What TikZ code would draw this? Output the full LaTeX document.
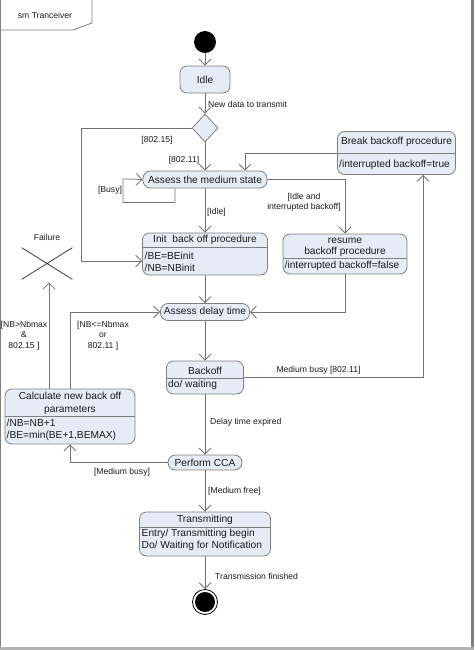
\documentclass[tikz,border=0pt]{standalone}
\usepackage{fontspec}
\setmainfont{Liberation Sans}
\usetikzlibrary{arrows.meta,shapes.geometric,shapes.misc}
\definecolor{boxfill}{HTML}{E6ECF6}
\definecolor{boxline}{HTML}{7F7F7F}
\definecolor{wire}{HTML}{737373}
\definecolor{txt}{HTML}{1A1A1A}
\begin{document}
\begin{tikzpicture}[x=1pt,y=-1pt,
 stbox/.style={draw=boxline, fill=boxfill, line width=0.8pt, rounded corners=7pt, inner sep=0pt},
 pill/.style={stbox, rounded corners=7.5pt},
 tr/.style={draw=wire, line width=0.8pt, -{Straight Barb[length=6pt,width=12pt,line width=0.8pt]}},
 divl/.style={draw=boxline, line width=0.8pt},
 ttl/.style={font=\fontsize{10.2}{12.5}\selectfont, text=txt, inner sep=0pt, align=center},
 cmp/.style={font=\fontsize{10.2}{12.2}\selectfont, text=txt, inner sep=0pt, align=left, anchor=west},
 lbl/.style={font=\fontsize{8.6}{10.3}\selectfont, text=txt, inner sep=0pt, align=center},
]
\useasboundingbox (0,0) rectangle (474,650);
% frame
\draw[draw=boxline, line width=0.8pt] (0.5,0) -- (0.5,648);
\draw[draw=gray, line width=2.5pt] (472.5,0) -- (472.5,649);
\draw[draw=black!30, line width=2.5pt] (0,648.7) -- (474,648.7);
\draw[draw=boxline, line width=0.8pt] (0,30) -- (73,30) -- (92,23) -- (92,0);
\node[lbl] (frm) at (45,15) {sm Tranceiver};

% states
\node[circle, fill=black, minimum size=22pt, inner sep=0pt] (ini) at (205,42) {};
\node[stbox, ttl, minimum width=50pt, minimum height=27pt] (idle) at (205,79.5) {Idle};
\node[diamond, draw=boxline, fill=boxfill, line width=0.8pt, minimum width=26pt, minimum height=28pt, inner sep=0pt] (dia) at (205,128) {};
\node[pill, ttl, minimum width=124pt, minimum height=17pt] (ams) at (205,179.5) {Assess the medium state};

\node[stbox, minimum width=118pt, minimum height=43pt] (brk) at (396.5,153) {};
\draw[divl] (337.5,153) -- (455.5,153);
\node[ttl] (brkt) at (396.5,142) {Break backoff procedure};
\node[cmp] (brkc) at (339,164.5) {/interrupted backoff=true};

\node[stbox, minimum width=125pt, minimum height=42pt] (init) at (205,254) {};
\draw[divl] (142.5,247) -- (267.5,247);
\node[ttl] (initt) at (205,240) {Init\ \ back off procedure};
\node[cmp] (initc) at (144.5,262) {/BE=BEinit\\/NB=NBinit};

\node[stbox, minimum width=124pt, minimum height=40pt] (res) at (345,254) {};
\draw[divl] (283,258) -- (407,258);
\node[ttl, font=\fontsize{10.2}{11.5}\selectfont] (rest) at (345,247.5) {resume\\backoff procedure};
\node[cmp] (resc) at (284.5,266) {/interrupted backoff=false};

\node[pill, ttl, minimum width=89pt, minimum height=17pt] (adl) at (205,312) {Assess delay time};

\node[stbox, minimum width=77pt, minimum height=33pt] (bko) at (205,377.5) {};
\draw[divl] (166.5,378) -- (243.5,378);
\node[ttl] (bkot) at (205,370.5) {Backoff};
\node[cmp] (bkoc) at (168,385) {do/ waiting};

\node[pill, ttl, minimum width=74pt, minimum height=15pt] (cca) at (205,462.5) {Perform CCA};

\node[stbox, minimum width=130pt, minimum height=55pt] (calc) at (70,416.5) {};
\draw[divl] (5,416) -- (135,416);
\node[ttl] (calct) at (70,403.5) {Calculate new back off\\parameters};
\node[cmp] (calcc) at (6.5,429.5) {/NB=NB+1\\/BE=min(BE+1,BEMAX)};

\node[stbox, minimum width=131pt, minimum height=44pt] (trn) at (205,534) {};
\draw[divl] (139.5,527) -- (270.5,527);
\node[ttl] (trnt) at (205,520) {Transmitting};
\node[cmp] (trnc) at (141.5,539.5) {Entry/ Transmitting begin\\Do/ Waiting for Notification};

\node[circle, draw=black, line width=0.8pt, minimum size=25pt, inner sep=0pt] (fin) at (205,602) {};
\node[circle, fill=black, minimum size=20pt, inner sep=0pt] (finc) at (fin) {};

\node[cross out, draw=txt!85, line width=0.8pt, minimum width=50pt, minimum height=31pt, inner sep=0pt] (fail) at (47,263.5) {};
\node[lbl] (failt) at (47,237) {Failure};

% transitions
\draw[tr] (ini.south) -- (idle.north);
\draw[tr] (idle.south) -- (dia.north);
\draw[tr] (dia.south) -- (ams.north);
\draw[tr] (dia.west) -- ++(-110,0) |- ([yshift=-7pt]init.west);
\draw[tr] ([xshift=-30pt]ams.south) -- ++(0,14) -| ++(-52,-23.5) -- (ams.west);
\draw[tr] (brk.west) -| ([xshift=40pt]ams.north);
\draw[tr] (ams.east) -| (res.north);
\draw[tr] (ams.south) -- (init.north);
\draw[tr] (init.south) -- (adl.north);
\draw[tr] (res.south) |- (adl.east);
\draw[tr] (adl.south) -- (bko.north);
\draw[tr] (bko.east) -| ([xshift=26.5pt]brk.south);
\draw[tr] (bko.south) -- (cca.north);
\draw[tr] (cca.west) -| (calc.south);
\draw[tr] (calc.north) |- (adl.west);
\draw[tr] ([xshift=-21pt]calc.north) -- ++(0,-106);
\draw[tr] (cca.south) -- (trn.north);
\draw[tr] (trn.south) -- (fin.north);

% labels
\node[lbl, anchor=west] (l1) at (208,104) {New data to transmit};
\node[lbl] (l2) at (157,140) {[802.15]};
\node[lbl] (l3) at (184,160) {[802.11]};
\node[lbl] (l4) at (110,190) {[Busy]};
\node[lbl] (l5) at (304,202) {[Idle and\\interrupted backoff]};
\node[lbl, anchor=west] (l6) at (207,212) {[Idle]};
\node[lbl] (l7) at (318.5,370) {Medium busy [802.11]};
\node[lbl, anchor=west] (l8) at (210,422) {Delay time expired};
\node[lbl] (l9) at (122,472) {[Medium busy]};
\node[lbl, anchor=west] (l10) at (208,491) {[Medium free]};
\node[lbl, anchor=west] (l11) at (215,576) {Transmission finished};
\node[lbl] (l12) at (24,335.5) {[NB>Nbmax\\\&\\802.15 ]};
\node[lbl] (l13) at (103,335.5) {[NB<=Nbmax\\or\\802.11 ]};
\end{tikzpicture}
\end{document}
